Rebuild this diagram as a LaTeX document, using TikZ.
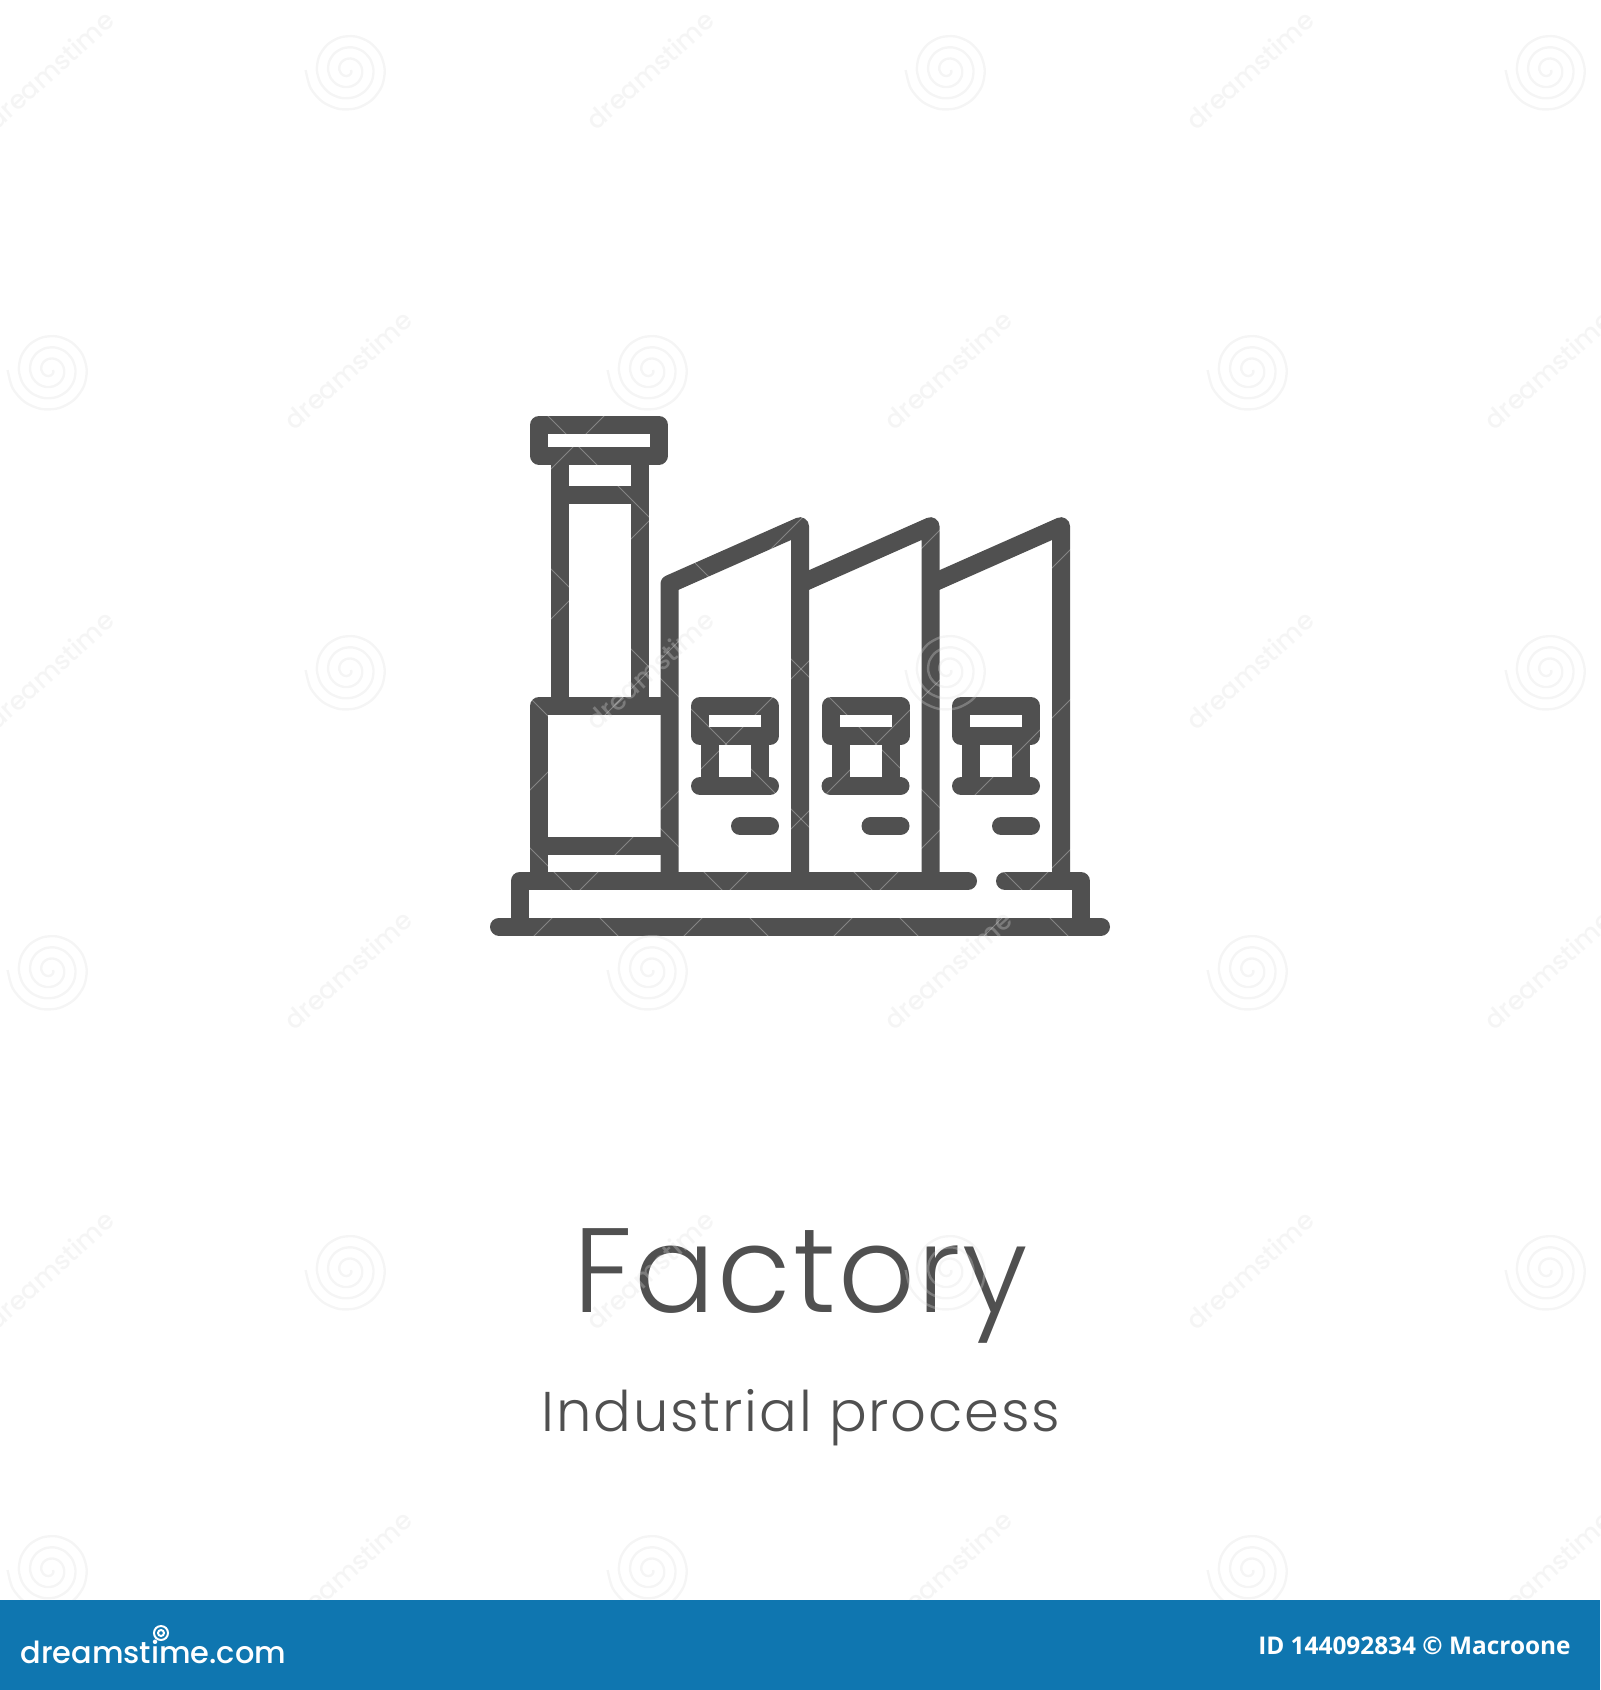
\documentclass[tikz,border=0pt]{standalone}
\usepackage{fontspec}
\setmainfont{Poppins Light}
\newfontfamily\footfont{Open Sans}
\newfontfamily\sitefont{Poppins Medium}
\newfontfamily\titlefont[LetterSpace=1.7]{Poppins Light}
\newfontfamily\subfont[LetterSpace=3.3]{Poppins Light}
\definecolor{icongray}{HTML}{505050}
\definecolor{bandblue}{HTML}{0F76B0}
\definecolor{markgray}{HTML}{DFDFDF}
\tikzset{
  iconline/.style={draw=icongray,line width=9pt,line join=round},
  barline/.style={iconline,line cap=round},
  markline/.style={draw=markgray,opacity=0.3,line width=1.2pt},
  gridline/.style={draw=white,opacity=0.3,line width=0.5pt},
}
\begin{document}
\begin{tikzpicture}[x=0.5pt,y=-0.5pt]
      \useasboundingbox (0,0) rectangle (1600,1690);
      \clip (0,0) rectangle (1600,1690);
      % chimney
      \draw[iconline] (539,425) rectangle (659,455.5);
      \draw[iconline] (559.5,455.5) -- (559.5,706) (639.5,455.5) -- (639.5,706);
      \draw[iconline] (559.5,495) -- (639.5,495);
      \draw[iconline] (539,881) -- (539,706) -- (669.5,706);
      \draw[iconline] (539,846) -- (669.5,846);
      % roof
      \draw[iconline] (669.5,881) -- (669.5,584) -- (800,526.2) -- (800,881);
      \draw[iconline] (800,584) -- (930.5,526.2) -- (930.5,881);
      \draw[iconline] (930.5,584) -- (1061,526.2) -- (1061,881);
      % windows
      \foreach \wx in {700,830.5,961} {
        \draw[iconline] (\wx,706) rectangle ++(70,30);
        \draw[iconline] (\wx+10,736) -- (\wx+10,786) (\wx+60,736) -- (\wx+60,786);
        \draw[barline] (\wx,786) -- (\wx+70,786);
        \draw[barline] (\wx+40,826) -- (\wx+70,826);
      }
      % ground
      \draw[barline] (968,881) -- (519.5,881) -- (519.5,926.5);
      \draw[barline] (1005,881) -- (1081,881) -- (1081,926.5);
      \draw[barline] (499,926.5) -- (1101,926.5);
      % labels
      \node[anchor=base,text=icongray,font=\titlefont\fontsize{60pt}{60pt}\selectfont,inner sep=0pt] (title) at (801,1312) {Factory};
      \node[anchor=base,text=icongray,font=\subfont\fontsize{28pt}{28pt}\selectfont,inner sep=0pt] (subtitle) at (801,1431) {Industrial process};
      % watermark
      \begin{scope}
        \clip (480,400) rectangle (1120,950);
        \foreach \ws in {1020,1170,...,2070} {
          \draw[gridline] (\ws-950,950) -- (\ws-400,400);
        }
        \foreach \ws in {132,-18,...,-468} {
          \draw[gridline] (\ws+400,400) -- (\ws+950,950);
        }
      \end{scope}
      \foreach \wx/\wy in {348/70,948/70,1548/70,50/370,650/370,1250/370,348/670,948/670,1548/670,
        50/970,650/970,1250/970,348/1270,948/1270,1548/1270,50/1570,650/1570,1250/1570} {
        \draw[markline] plot[smooth,domain=0:1260,samples=50] ({\wx+(3+\x/32)*cos(\x)},{\wy+(3+\x/32)*sin(\x)});
      }
      \foreach \wx/\wy in {50/70,650/70,1250/70,348/370,948/370,1548/370,50/670,650/670,1250/670,
        348/970,948/970,1548/970,50/1270,650/1270,1250/1270,348/1570,948/1570,1548/1570} {
        \node[text=markgray,text opacity=0.3,font=\sitefont\fontsize{13pt}{13pt}\selectfont,rotate=42] (mark\wx-\wy) at (\wx,\wy) {dreamstime};
      }
      % band
      \fill[bandblue] (0,1600) rectangle (1600,1690);
      \node[anchor=base west,text=white,font=\sitefont\fontsize{15.2pt}{15.2pt}\selectfont,inner sep=0pt] (site) at (20,1663) {dreamstime.com};
      \node[anchor=base east,text=white,font=\footfont\bfseries\fontsize{12.2pt}{12.2pt}\selectfont,inner sep=0pt] (credit) at (1571,1654) {ID 144092834 © Macroone};
      \draw[white,line width=1pt] (161,1633) circle (7) (161,1633) circle (3);
    \end{tikzpicture}
\end{document}
